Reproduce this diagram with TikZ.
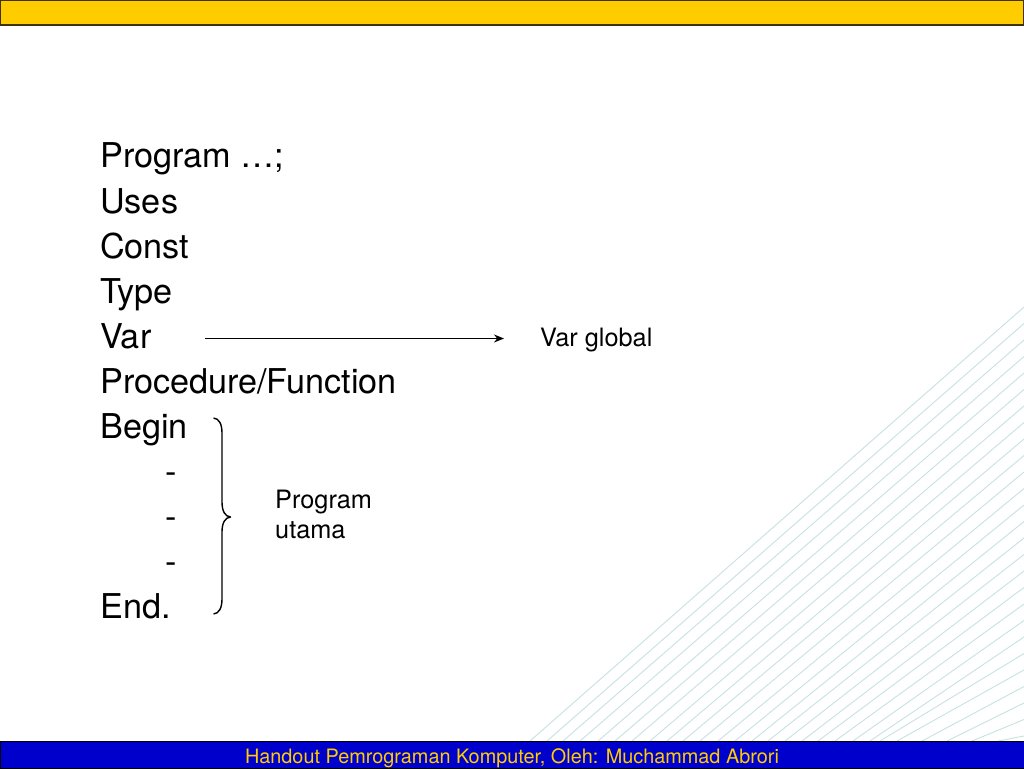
\documentclass[tikz,border=0pt]{standalone}
\usepackage{fontspec}
\setmainfont{TeX Gyre Heros}
\usetikzlibrary{arrows.meta}
\definecolor{barY}{HTML}{FFCC00}
\definecolor{barB}{HTML}{0000CC}
\definecolor{hatch}{HTML}{C8E2E2}
\tikzset{
  codeline/.style={anchor=base west,inner sep=0pt,font=\fontsize{34.2}{40}\selectfont},
  note/.style={anchor=base west,inner sep=0pt,font=\fontsize{25.3}{30}\selectfont},
  foot/.style={anchor=base,inner sep=0pt,text=barY,font=\fontsize{19.85}{24}\selectfont},
  hatchline/.style={draw=hatch,line width=0.9pt},
  link/.style={draw=black,line width=1.4pt,line join=round}
}
\begin{document}
\begin{tikzpicture}[x=1pt,y=-1pt]
\useasboundingbox (0,0) rectangle (1024,768);
\fill[white] (0,0) rectangle (1024,768);
% hatching
\foreach \bx [count=\k from 0] in {530,547,563,580,598,615,632,650,667,683,700,718,735,752,768,785,802,818,835,853,870,880,897,922,947,972,998}{
  \pgfmathsetmacro{\ry}{307+16.5*\k}
  \draw[hatchline] (\bx,741) -- (1024,\ry);
}
% bars
\draw[fill=barY,draw=black!75!barY,line width=1.2pt] (0.5,0.5) rectangle (1023.5,25);
\draw[fill=barB,draw=black,line width=0.8pt] (0,741.5) rectangle (1024,768.5);
\node[foot] (footer) at (512,763) {Handout Pemrograman Komputer, Oleh: Muchammad Abrori};
% code
\node[codeline] (l1) at (100,167.5) {Program …;};
\node[codeline] (l2) at (100,213) {Uses};
\node[codeline] (l3) at (100,258) {Const};
\node[codeline] (l4) at (100,303) {Type};
\node[codeline] (l5) at (100,348.5) {Var};
\node[codeline] (l6) at (100,393.5) {Procedure/Function};
\node[codeline] (l7) at (100,438) {Begin};
\node[codeline] (l8) at (165.5,483) {-};
\node[codeline] (l9) at (165.5,528) {-};
\node[codeline] (l10) at (165.5,573) {-};
\node[codeline] (l11) at (100,618) {End.};
% notes
\node[note] (vg) at (539.8,346) {Var global};
\node[note] (pu1) at (275,508) {Program};
\node[note] (pu2) at (275,538) {utama};
% arrow
\coordinate (as) at (205,338.5);
\coordinate (ae) at (504,338.5);
\draw[link,-{Stealth[length=10pt,width=8pt]}] (as) -- (ae);
% brace
\coordinate (bt) at (213.5,418);
\coordinate (bm) at (230.5,517);
\coordinate (bb) at (213.5,614);
\draw[link] (bt) .. controls (219,418.5) and (222,424) .. (222,433)
  -- (222,502) .. controls (222,511) and (225,516.5) .. (bm)
  .. controls (225,517.5) and (222,523) .. (222,532)
  -- (222,599) .. controls (222,608) and (219,613.5) .. (bb);
\end{tikzpicture}
\end{document}
